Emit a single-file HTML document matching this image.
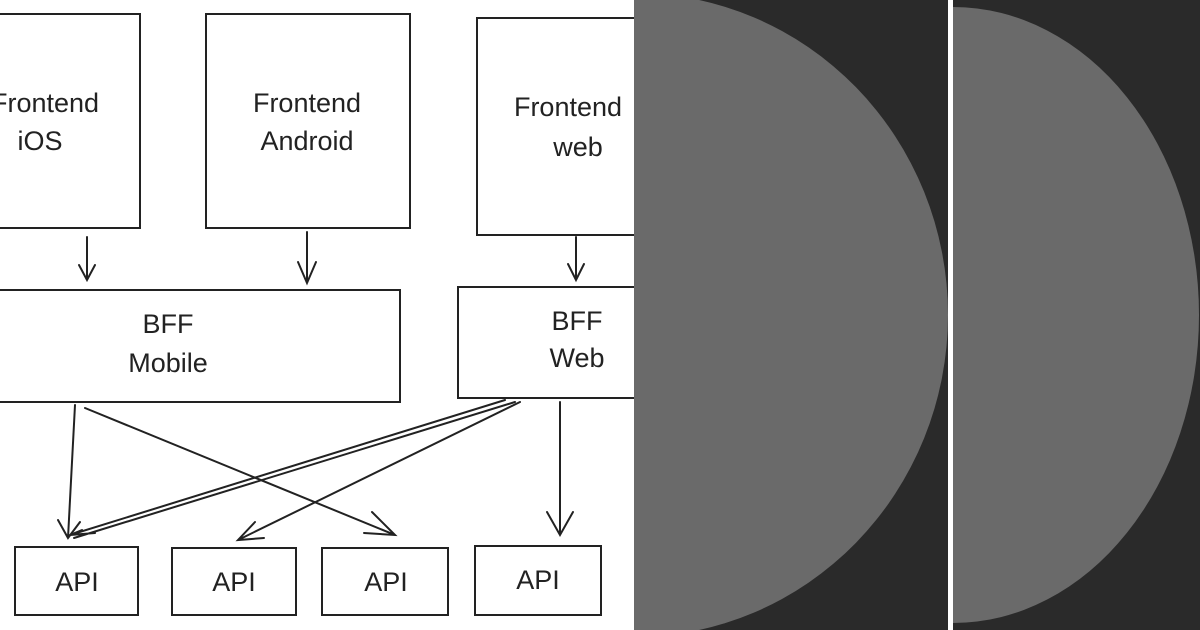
<!DOCTYPE html>
<html><head><meta charset="utf-8"><style>
html,body{margin:0;padding:0;width:1200px;height:630px;overflow:hidden;background:#fff}
svg{display:block}
text{font-family:"Liberation Sans",sans-serif;font-size:27px;fill:#222;text-anchor:middle}
</style></head><body>
<svg width="1200" height="630" viewBox="0 0 1200 630">
<rect width="1200" height="630" fill="#fff"/>
<g fill="none" stroke="#222" stroke-width="2" stroke-linecap="round">
<rect x="-5" y="14" width="145" height="214"/>
<rect x="206" y="14" width="204" height="214"/>
<rect x="477" y="18" width="160" height="217"/>
<path d="M87 237V280M79 265L87 280L95 265"/>
<path d="M307 232V283M298 262L307 283L316 262"/>
<path d="M576 237V280M568 264L576 280L584 264"/>
<rect x="-5" y="290" width="405" height="112"/>
<rect x="458" y="287" width="180" height="111"/>
<path d="M75 405L68 538M58 520L68 538L80 522"/>
<path d="M85 408L395 535M372 512L395 535L364 533"/>
<path d="M505 400L70 535M515 402L74 538M82 530L70 535L95 533"/>
<path d="M520 402L238 540M255 522L238 540L264 538"/>
<path d="M560 402L560 535M547 512L560 535L573 512"/>
<rect x="15" y="547" width="123" height="68"/>
<rect x="172" y="548" width="124" height="67"/>
<rect x="322" y="548" width="126" height="67"/>
<rect x="475" y="546" width="126" height="69"/>
</g>
<text x="45" y="112">Frontend</text><text x="40" y="150">iOS</text>
<text x="307" y="112">Frontend</text><text x="307" y="150">Android</text>
<text x="568" y="116">Frontend</text><text x="578" y="156">web</text>
<text x="168" y="333">BFF</text><text x="168" y="372">Mobile</text>
<text x="577" y="330">BFF</text><text x="577" y="367">Web</text>
<text x="77" y="591">API</text><text x="234" y="591">API</text><text x="386" y="591">API</text><text x="538" y="589">API</text>
<rect x="634" y="0" width="566" height="630" fill="#2a2a2a"/>
<path d="M634 -7A314 322 0 0 1 634 637Z" fill="#6a6a6a"/>
<rect x="948" y="0" width="5" height="630" fill="#fff"/>
<rect x="953" y="0" width="247" height="630" fill="#2a2a2a"/>
<path d="M953 7A246 308 0 0 1 953 623Z" fill="#6a6a6a"/>
</svg>
</body></html>
